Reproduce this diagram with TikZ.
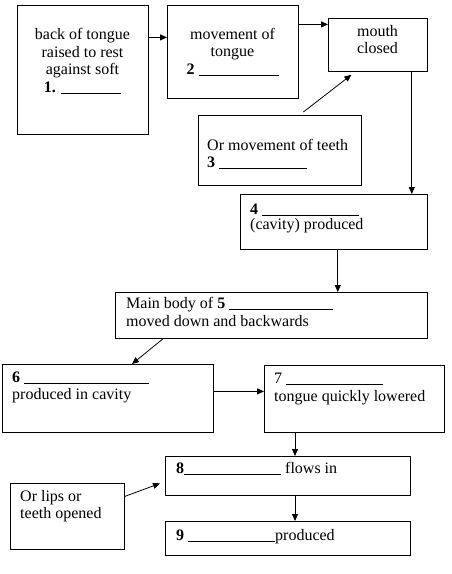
\documentclass[tikz,border=0pt]{standalone}
\usepackage{fontspec}
\setmainfont{Liberation Serif}
\usetikzlibrary{arrows.meta}
\newcommand{\blankline}[1]{\rule[-1pt]{#1pt}{0.7pt}}
\begin{document}
\begin{tikzpicture}
                [x=1pt, y=-1pt,
                box/.style={rectangle,draw=black,line width=0.8pt,anchor=north west},
                txt/.style={inner sep=0pt,anchor=north west,align=left,font=\fontsize{16}{17.5}\selectfont},
                ctxt/.style={txt,anchor=north,align=center},
                arrow/.style={-{Triangle[length=7pt,width=6pt]},line width=0.8pt},
                ]
                \useasboundingbox (0,0) rectangle (452,574);
                \node[box, minimum width=131pt, minimum height=129pt] (tongue) at (17,5) {};
                \node[box, minimum width=131pt, minimum height=93pt] (movement) at (167,5) {};
                \node[box, minimum width=99pt, minimum height=53pt] (mouth) at (328,18) {};
                \node[box, minimum width=163pt, minimum height=70pt] (teeth) at (198,115) {};
                \node[box, minimum width=187pt, minimum height=55pt] (cavity) at (240,194) {};
                \node[box, minimum width=312pt, minimum height=46pt] (mainbody) at (115,292) {};
                \node[box, minimum width=211pt, minimum height=68pt] (produced) at (2,364) {};
                \node[box, minimum width=180pt, minimum height=67pt] (lowered) at (264,365) {};
                \node[box, minimum width=245pt, minimum height=39pt] (flows) at (165,456) {};
                \node[box, minimum width=114pt, minimum height=66pt] (lips) at (10,483) {};
                \node[box, minimum width=245pt, minimum height=34pt] (sound) at (165,521) {};
                \node[ctxt] (tongue-t) at (82.5,28.5) {back of tongue\\raised to rest\\against soft\\\textbf{1.} \blankline{60}};
                \node[ctxt] (movement-t) at (232.5,28) {movement of\\tongue\\\textbf{2} \blankline{80}};
                \node[ctxt] (mouth-t) at (377.5,25) {mouth\\closed};
                \node[txt] (teeth-t) at (207,139) {Or movement of teeth\\\textbf{3} \blankline{88}};
                \node[txt] (cavity-t) at (250,204) {\textbf{4} \blankline{97}\\[-2.5pt](cavity) produced};
                \node[txt] (mainbody-t) at (126,297.5) {Main body of \textbf{5} \blankline{104}\\moved down and backwards};
                \node[txt] (produced-t) at (12,371.5) {\textbf{6} \blankline{125}\\produced in cavity};
                \node[txt] (lowered-t) at (274,373) {7 \blankline{97}\\tongue quickly lowered};
                \node[txt] (flows-t) at (176,462) {\textbf{8}\blankline{97} flows in};
                \node[txt] (lips-t) at (20,490) {Or lips or\\teeth opened};
                \node[txt] (sound-t) at (176,529) {\textbf{9} \blankline{87}produced};
                \draw[arrow] ([yshift=32.5pt]tongue.east) -- ([yshift=14.5pt]movement.west);
                \draw[arrow] ([yshift=27.5pt]movement.east) -- ([yshift=20.5pt]mouth.west);
                \draw[arrow] ([xshift=23.5pt,yshift=3pt]teeth.north) -- ([xshift=-26.5pt,yshift=-3pt]mouth.south);
                \draw[arrow] ([xshift=-16pt]mouth.south east) -- ([xshift=-16pt]cavity.north east);
                \draw[arrow] ([xshift=-90pt]cavity.south east) -- ([xshift=-90pt]mainbody.north east);
                \draw[arrow] ([xshift=48pt]mainbody.south west) -- ([xshift=130pt]produced.north west);
                \draw[arrow] ([yshift=7pt]produced.east) -- ([yshift=7.5pt]lowered.west);
                \draw[arrow] ([xshift=31pt]lowered.south west) -- ([xshift=130pt]flows.north west);
                \draw[arrow] ([xshift=130pt]flows.south west) -- ([xshift=130pt]sound.north west);
                \draw[arrow] ([yshift=20pt]lips.east) -- ([xshift=-5pt,yshift=-7.5pt]flows.west);
            \end{tikzpicture}
\end{document}
